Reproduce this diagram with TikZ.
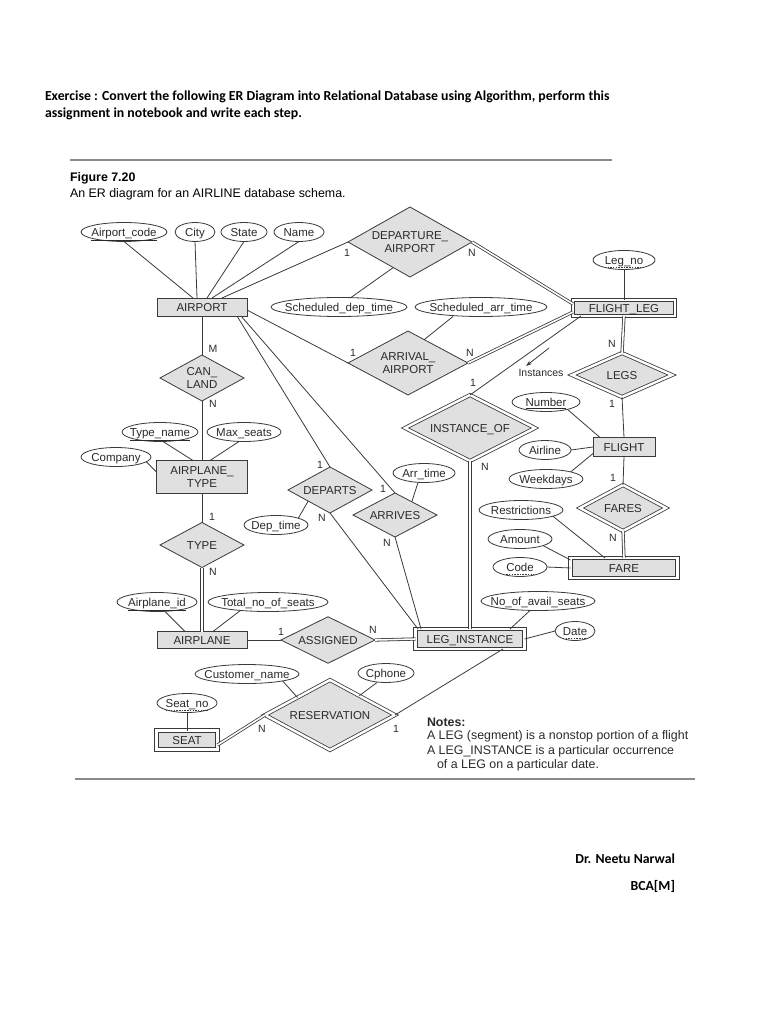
\documentclass[tikz,border=0pt]{standalone}
\usepackage{fontspec}
\setmainfont{Liberation Sans}
\newfontfamily\calibri{Carlito}
\usetikzlibrary{shapes.geometric,arrows.meta,calc}
\definecolor{linec}{HTML}{3A3A3A}
\definecolor{boxfill}{HTML}{E0E0E0}
\definecolor{rulec}{HTML}{8A8A8A}
\definecolor{txtc}{HTML}{2A2A2A}
\newcommand\attrib[5]{%
  \node[attr, minimum width=#4] (#1) at (#2,#3) {};
  \node[atxt] (#1t) at (#1) {#5};}
\newcommand\pattrib[5]{%
  \node[attr, minimum width=#4] (#1) at (#2,#3) {};
  \node[atxt] (#1t) at (#1) {#5};
  \draw[linec, line width=0.7pt, dash pattern=on 1.5pt off 1.2pt] ([yshift=-3pt]#1t.base west) -- ([yshift=-3pt]#1t.base east);}
\begin{document}
\begin{tikzpicture}[x=1pt,y=-1pt,
  every node/.style={inner sep=0pt, outer sep=0pt},
  dfont/.style={font=\fontsize{11.5}{12.5}\selectfont, text=txtc},
  one/.style={text height=10.3pt, text depth=1.3pt},
  entb/.style={rectangle, draw=linec, fill=boxfill, line width=0.8pt, dfont, align=center},
  ent/.style={entb, one},
  went/.style={ent, double=white, double distance=2.5pt},
  relb/.style={diamond, shape aspect=1.7, draw=linec, fill=boxfill, line width=0.8pt, dfont, align=center},
  rel/.style={relb, one},
  wrel/.style={rel, double=white, double distance=2.4pt},
  attr/.style={ellipse, draw=linec, fill=white, line width=0.8pt, minimum height=19},
  atxt/.style={dfont, text height=10.5pt, text depth=1pt},
  conn/.style={draw=linec, line width=0.8pt},
  tot/.style={draw=linec, line width=0.8pt, double=white, double distance=1.6pt},
  card/.style={font=\fontsize{10.5}{12}\selectfont, text=txtc},
  head/.style={anchor=base west, font=\calibri\bfseries\fontsize{13.8}{16}\selectfont},
  note/.style={anchor=base west, font=\fontsize{12.4}{14}\selectfont, text=txtc},
]
\useasboundingbox (0,0) rectangle (768,1024);

% header
\node[head] (h1) at (45,101) {Exercise : Convert the following ER Diagram into Relational Database using Algorithm, perform this};
\node[head] (h2) at (45,118) {assignment in notebook and write each step.};
\node[head, anchor=base east] (au1) at (675,863) {Dr. Neetu Narwal};
\node[head, anchor=base east] (au2) at (675,890) {BCA[M]};

% rules
\draw[rulec, line width=1.2pt] (70,160) -- (612,160);
\draw[rulec, line width=1.2pt] (75,779) -- (695,779);

\node[anchor=base west, font=\bfseries\fontsize{12.4}{14}\selectfont] (fig) at (70,182) {Figure 7.20};
\node[note, text=black] (cap) at (70,198) {An ER diagram for an AIRLINE database schema.};

% entities
\node[ent, minimum width=90, minimum height=18] (airport) at (202,307) {AIRPORT};
\node[went, minimum width=102, minimum height=16] (flightleg) at (624,308) {FLIGHT\_LEG};
\node[entb, minimum width=91, minimum height=33] (ptype) at (202,477) {AIRPLANE\_\\TYPE};
\node[ent, minimum width=62, minimum height=19] (flight) at (624,447) {FLIGHT};
\node[went, minimum width=107, minimum height=20] (fare) at (624,568) {FARE};
\node[ent, minimum width=90, minimum height=17] (airplane) at (202,640) {AIRPLANE};
\node[went, minimum width=109, minimum height=20] (leginst) at (470,639) {LEG\_INSTANCE};
\node[went, minimum width=61, minimum height=19] (seat) at (187,740) {SEAT};

% relationships
\node[relb, minimum width=124, minimum height=70] (deparr) at (410,242) {DEPARTURE\_\\AIRPORT};
\node[relb, minimum width=120, minimum height=64] (arrair) at (408,363) {ARRIVAL\_\\AIRPORT};
\node[relb, minimum width=84, minimum height=46] (canland) at (202,378) {CAN\_\\LAND};
\node[rel, minimum width=84, minimum height=45] (type) at (202,545) {TYPE};
\node[rel, minimum width=84, minimum height=46] (departs) at (330,490) {DEPARTS};
\node[rel, minimum width=84, minimum height=44] (arrives) at (395,515) {ARRIVES};
\node[wrel, minimum width=130, minimum height=66] (instof) at (470,428) {INSTANCE\_OF};
\node[wrel, minimum width=100, minimum height=44] (legs) at (622,375) {LEGS};
\node[wrel, minimum width=86, minimum height=46] (fares) at (623,508) {FARES};
\node[rel, minimum width=94, minimum height=46] (assigned) at (328,640) {ASSIGNED};
\node[wrel, minimum width=130, minimum height=70] (resv) at (330,715) {RESERVATION};

% attributes
\attrib{apc}{124}{232}{86}{\underline{Airport\_code}}
\attrib{city}{195}{232}{40}{City}
\attrib{state}{244}{232}{46}{State}
\attrib{aname}{299}{232}{50}{Name}
\attrib{sdep}{339}{307}{136}{Scheduled\_dep\_time}
\attrib{sarr}{481}{307}{132}{Scheduled\_arr\_time}
\pattrib{legno}{624}{260}{62}{Leg\_no}
\attrib{tname}{160}{432}{76}{\underline{Type\_name}}
\attrib{maxs}{244}{432}{74}{Max\_seats}
\attrib{comp}{116}{457}{70}{Company}
\attrib{dept}{276}{525}{64}{Dep\_time}
\attrib{arrt}{424}{473}{62}{Arr\_time}
\attrib{num}{546}{402}{68}{\underline{Number}}
\attrib{airl}{545}{450}{52}{Airline}
\attrib{wkd}{546}{479}{74}{Weekdays}
\attrib{restr}{521}{510}{84}{Restrictions}
\attrib{amt}{520}{539}{64}{Amount}
\pattrib{code}{520}{567}{54}{Code}
\attrib{apid}{157}{602}{80}{\underline{Airplane\_id}}
\attrib{tots}{268}{602}{120}{Total\_no\_of\_seats}
\attrib{navail}{538}{601}{114}{No\_of\_avail\_seats}
\pattrib{date}{575}{631}{40}{Date}
\attrib{cname}{247}{674}{104}{Customer\_name}
\attrib{cph}{386}{673}{56}{Cphone}
\pattrib{seatno}{187}{703}{60}{Seat\_no}

% attribute links
\draw[conn] (apc.south) -- ([xshift=-9pt]airport.north);
\draw[conn] (city.south) -- ([xshift=-5pt]airport.north);
\draw[conn] (state.south) -- ([xshift=5pt]airport.north);
\draw[conn] (aname.south) -- ([xshift=10pt]airport.north);
\draw[conn] ($(deparr.west)!0.73!(deparr.south)$) -- ([xshift=12pt]sdep.north);
\draw[conn] ($(arrair.north)!0.27!(arrair.east)$) -- ([xshift=-28pt]sarr.south);
\draw[conn] (legno.south) -- (flightleg.north);
\draw[conn] ([xshift=3pt]tname.south) -- ([xshift=-9pt]ptype.north);
\draw[conn] ([xshift=-5pt]maxs.south) -- ([xshift=8pt]ptype.north);
\draw[conn] (comp.351) -- ([yshift=5pt]ptype.west);
\draw[conn] (dept.17) -- ($(departs.west)!0.48!(departs.south)$);
\draw[conn] ([xshift=-6pt]arrt.south) -- ($(arrives.north)!0.4!(arrives.east)$);
\draw[conn] (num.341) -- ([xshift=7pt]flight.north west);
\draw[conn] (airl.east) -- (flight.west);
\draw[conn] (wkd.16) -- ([yshift=3pt]flight.south west);
\draw[conn] (restr.349.5) -- ([xshift=-19pt]fare.north);
\draw[conn] (amt.344) -- ([yshift=8pt]fare.west);
\draw[conn] (code.east) -- (fare.west);
\draw[conn] ([xshift=8pt]apid.south) -- ([xshift=-17pt]airplane.north);
\draw[conn] (tots.197.5) -- ([xshift=11pt]airplane.north);
\draw[conn] ([xshift=-8pt]navail.south) -- ([xshift=40pt]leginst.north);
\draw[conn] (date.west) -- (leginst.east);
\draw[conn] (cname.349) -- ($(resv.west)!0.5!(resv.north)$);
\draw[conn] ([xshift=-9pt]cph.south) -- ($(resv.north)!0.45!(resv.east)$);
\draw[conn] (seatno.south) -- (seat.north);

% relationship links
\draw[conn] (deparr.west) -- ([xshift=20pt]airport.north);
\draw[tot] (deparr.east) -- ([yshift=-4pt]flightleg.north west);
\draw[conn] (arrair.west) -- ([yshift=-3pt]airport.east);
\draw[tot] (arrair.east) -- ([yshift=4pt]flightleg.south west);
\draw[tot] (flightleg.south) -- (legs.north);
\draw[conn] (legs.south) -- (flight.north);
\draw[conn] ([xshift=8pt]flightleg.south west) -- (instof.north);
\draw[tot] (instof.south) -- (leginst.north);
\draw[conn] (flight.south) -- (fares.north);
\draw[tot] (fares.south) -- (fare.north);
\draw[conn] (airport.south) -- (canland.north);
\draw[conn] (canland.south) -- (ptype.north);
\draw[conn] (ptype.south) -- (type.north);
\draw[tot] (type.south) -- (airplane.north);
\draw[conn] ([xshift=35pt]airport.south) -- (departs.north);
\draw[conn] ([xshift=39pt]airport.south) -- (arrives.north);
\draw[conn] (departs.south) -- ([xshift=-52pt]leginst.north);
\draw[conn] (arrives.south) -- ([xshift=-49pt]leginst.north);
\draw[conn] (airplane.east) -- (assigned.west);
\draw[tot] (assigned.east) -- (leginst.west);
\draw[conn] ([xshift=33pt]leginst.south) -- (resv.east);
\draw[tot] (resv.west) -- ([yshift=-5pt]seat.east);

% Instances arrow
\coordinate (ia) at (549,348);
\coordinate (ib) at (526,366);
\draw[conn, -{Stealth[length=6pt,width=4pt]}] (ia) -- (ib);
\node[card] (inst) at (541,373) {Instances};

% cardinalities
\node[card] (k1) at (347,253) {1};
\node[card] (k2) at (472,253) {N};
\node[card] (k3) at (353,353) {1};
\node[card] (k4) at (470,353) {N};
\node[card] (k5) at (612,344) {N};
\node[card] (k6) at (612,404) {1};
\node[card] (k7) at (613,478) {1};
\node[card] (k8) at (613,538) {N};
\node[card] (k9) at (473,383) {1};
\node[card] (k10) at (485,467) {N};
\node[card] (k11) at (213,349) {M};
\node[card] (k12) at (213,404) {N};
\node[card] (k13) at (212,517) {1};
\node[card] (k14) at (213,572) {N};
\node[card] (k15) at (320,465) {1};
\node[card] (k16) at (322,518) {N};
\node[card] (k17) at (383,489) {1};
\node[card] (k18) at (387,543) {N};
\node[card] (k19) at (281,632) {1};
\node[card] (k20) at (373,630) {N};
\node[card] (k21) at (396,729) {1};
\node[card] (k22) at (262,729) {N};

% notes
\node[note, font=\bfseries\fontsize{12.4}{14}\selectfont] (n0) at (427,726) {Notes:};
\node[note] (n1) at (427,739) {A LEG (segment) is a nonstop portion of a flight};
\node[note] (n2) at (427,754) {A LEG\_INSTANCE is a particular occurrence};
\node[note] (n3) at (437,768) {of a LEG on a particular date.};
\end{tikzpicture}
\end{document}
